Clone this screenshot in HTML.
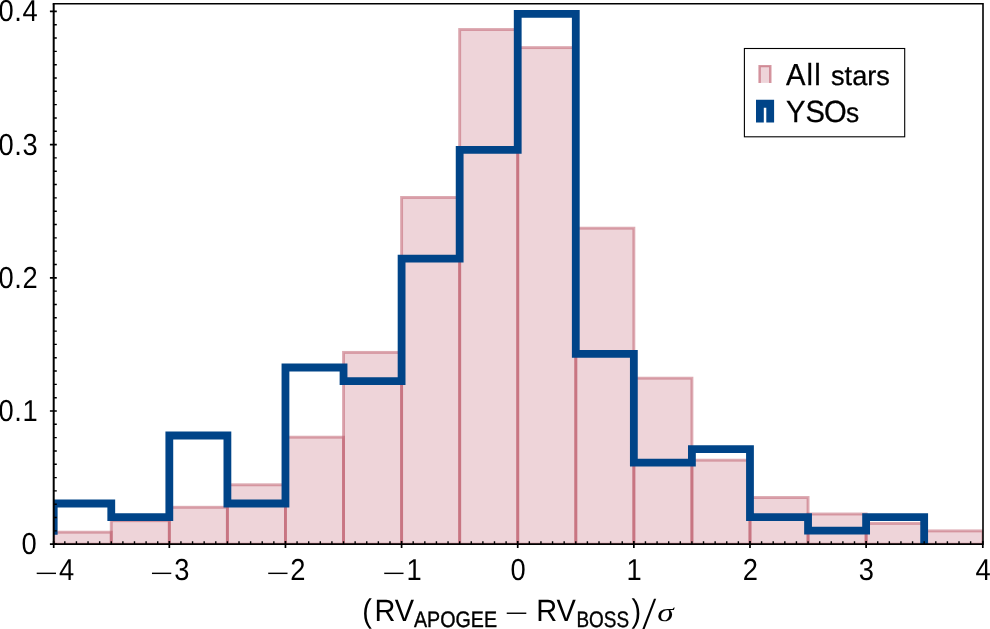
<!DOCTYPE html>
<html lang="en"><head><meta charset="utf-8"><title>RV comparison histogram</title>
<style>html,body{margin:0;padding:0;background:#fff;}body{width:990px;height:629px;overflow:hidden;}svg{display:block;}text{font-family:"Liberation Sans", Arial, Helvetica, sans-serif;fill:#000;text-rendering:geometricPrecision;}</style>
</head><body>
<svg width="990" height="629" viewBox="0 0 990 629">
<rect x="0" y="0" width="990" height="629" fill="#ffffff"/>
<defs><clipPath id="ax"><rect x="53.70" y="3.70" width="929.30" height="540.40"/></clipPath></defs>
<g clip-path="url(#ax)">
<rect x="53.70" y="532.20" width="57.57" height="12.00" fill="#BB5566" fill-opacity="0.25" stroke="#BB5566" stroke-opacity="0.5" stroke-width="2.9"/>
<rect x="111.27" y="520.70" width="58.06" height="23.50" fill="#BB5566" fill-opacity="0.25" stroke="#BB5566" stroke-opacity="0.5" stroke-width="2.9"/>
<rect x="169.33" y="507.30" width="58.06" height="36.90" fill="#BB5566" fill-opacity="0.25" stroke="#BB5566" stroke-opacity="0.5" stroke-width="2.9"/>
<rect x="227.40" y="484.80" width="58.06" height="59.40" fill="#BB5566" fill-opacity="0.25" stroke="#BB5566" stroke-opacity="0.5" stroke-width="2.9"/>
<rect x="285.46" y="437.20" width="58.06" height="107.00" fill="#BB5566" fill-opacity="0.25" stroke="#BB5566" stroke-opacity="0.5" stroke-width="2.9"/>
<rect x="343.53" y="352.40" width="58.06" height="191.80" fill="#BB5566" fill-opacity="0.25" stroke="#BB5566" stroke-opacity="0.5" stroke-width="2.9"/>
<rect x="401.59" y="197.45" width="58.06" height="346.75" fill="#BB5566" fill-opacity="0.25" stroke="#BB5566" stroke-opacity="0.5" stroke-width="2.9"/>
<rect x="459.66" y="29.50" width="58.06" height="514.70" fill="#BB5566" fill-opacity="0.25" stroke="#BB5566" stroke-opacity="0.5" stroke-width="2.9"/>
<rect x="517.72" y="47.60" width="58.07" height="496.60" fill="#BB5566" fill-opacity="0.25" stroke="#BB5566" stroke-opacity="0.5" stroke-width="2.9"/>
<rect x="575.79" y="228.20" width="58.06" height="316.00" fill="#BB5566" fill-opacity="0.25" stroke="#BB5566" stroke-opacity="0.5" stroke-width="2.9"/>
<rect x="633.85" y="378.20" width="58.06" height="166.00" fill="#BB5566" fill-opacity="0.25" stroke="#BB5566" stroke-opacity="0.5" stroke-width="2.9"/>
<rect x="691.91" y="460.20" width="58.07" height="84.00" fill="#BB5566" fill-opacity="0.25" stroke="#BB5566" stroke-opacity="0.5" stroke-width="2.9"/>
<rect x="749.98" y="497.50" width="58.07" height="46.70" fill="#BB5566" fill-opacity="0.25" stroke="#BB5566" stroke-opacity="0.5" stroke-width="2.9"/>
<rect x="808.05" y="514.00" width="58.06" height="30.20" fill="#BB5566" fill-opacity="0.25" stroke="#BB5566" stroke-opacity="0.5" stroke-width="2.9"/>
<rect x="866.11" y="523.40" width="58.06" height="20.80" fill="#BB5566" fill-opacity="0.25" stroke="#BB5566" stroke-opacity="0.5" stroke-width="2.9"/>
<rect x="924.17" y="530.90" width="58.83" height="13.30" fill="#BB5566" fill-opacity="0.25" stroke="#BB5566" stroke-opacity="0.5" stroke-width="2.9"/>
<path d="M53.70 534.70 L53.70 503.50 L111.27 503.50 L111.27 517.10 L169.33 517.10 L169.33 435.50 L227.40 435.50 L227.40 503.50 L285.46 503.50 L285.46 367.50 L343.53 367.50 L343.53 381.10 L401.59 381.10 L401.59 258.70 L459.66 258.70 L459.66 149.90 L517.72 149.90 L517.72 13.90 L575.79 13.90 L575.79 353.90 L633.85 353.90 L633.85 462.70 L691.91 462.70 L691.91 449.10 L749.98 449.10 L749.98 517.10 L808.05 517.10 L808.05 530.70 L866.11 530.70 L866.11 517.10 L924.17 517.10 L924.17 544.20" fill="none" stroke="#004488" stroke-width="7.8" stroke-linejoin="miter" stroke-linecap="butt"/>
</g>
<path d="M64.81 541.20 V544.10 M76.43 541.20 V544.10 M88.04 541.20 V544.10 M99.65 541.20 V544.10 M111.27 541.20 V544.10 M122.88 541.20 V544.10 M134.49 541.20 V544.10 M146.10 541.20 V544.10 M157.72 541.20 V544.10 M180.94 541.20 V544.10 M192.56 541.20 V544.10 M204.17 541.20 V544.10 M215.78 541.20 V544.10 M227.40 541.20 V544.10 M239.01 541.20 V544.10 M250.62 541.20 V544.10 M262.23 541.20 V544.10 M273.85 541.20 V544.10 M297.07 541.20 V544.10 M308.69 541.20 V544.10 M320.30 541.20 V544.10 M331.91 541.20 V544.10 M343.53 541.20 V544.10 M355.14 541.20 V544.10 M366.75 541.20 V544.10 M378.36 541.20 V544.10 M389.98 541.20 V544.10 M413.20 541.20 V544.10 M424.82 541.20 V544.10 M436.43 541.20 V544.10 M448.04 541.20 V544.10 M459.66 541.20 V544.10 M471.27 541.20 V544.10 M482.88 541.20 V544.10 M494.49 541.20 V544.10 M506.11 541.20 V544.10 M529.33 541.20 V544.10 M540.95 541.20 V544.10 M552.56 541.20 V544.10 M564.17 541.20 V544.10 M575.79 541.20 V544.10 M587.40 541.20 V544.10 M599.01 541.20 V544.10 M610.62 541.20 V544.10 M622.24 541.20 V544.10 M645.46 541.20 V544.10 M657.08 541.20 V544.10 M668.69 541.20 V544.10 M680.30 541.20 V544.10 M691.91 541.20 V544.10 M703.53 541.20 V544.10 M715.14 541.20 V544.10 M726.75 541.20 V544.10 M738.37 541.20 V544.10 M761.59 541.20 V544.10 M773.21 541.20 V544.10 M784.82 541.20 V544.10 M796.43 541.20 V544.10 M808.05 541.20 V544.10 M819.66 541.20 V544.10 M831.27 541.20 V544.10 M842.88 541.20 V544.10 M854.50 541.20 V544.10 M877.72 541.20 V544.10 M889.34 541.20 V544.10 M900.95 541.20 V544.10 M912.56 541.20 V544.10 M924.17 541.20 V544.10 M935.79 541.20 V544.10 M947.40 541.20 V544.10 M959.01 541.20 V544.10 M970.63 541.20 V544.10 M53.70 530.88 H56.80 M53.70 517.56 H56.80 M53.70 504.24 H56.80 M53.70 490.92 H56.80 M53.70 477.60 H56.80 M53.70 464.28 H56.80 M53.70 450.96 H56.80 M53.70 437.64 H56.80 M53.70 424.32 H56.80 M53.70 397.68 H56.80 M53.70 384.36 H56.80 M53.70 371.04 H56.80 M53.70 357.72 H56.80 M53.70 344.40 H56.80 M53.70 331.08 H56.80 M53.70 317.76 H56.80 M53.70 304.44 H56.80 M53.70 291.12 H56.80 M53.70 264.48 H56.80 M53.70 251.16 H56.80 M53.70 237.84 H56.80 M53.70 224.52 H56.80 M53.70 211.20 H56.80 M53.70 197.88 H56.80 M53.70 184.56 H56.80 M53.70 171.24 H56.80 M53.70 157.92 H56.80 M53.70 131.28 H56.80 M53.70 117.96 H56.80 M53.70 104.64 H56.80 M53.70 91.32 H56.80 M53.70 78.00 H56.80 M53.70 64.68 H56.80 M53.70 51.36 H56.80 M53.70 38.04 H56.80 M53.70 24.72 H56.80" fill="none" stroke="#000" stroke-width="1.4"/>
<path d="M53.70 541.00 V548.00 M169.33 541.00 V548.00 M285.46 541.00 V548.00 M401.59 541.00 V548.00 M517.72 541.00 V548.00 M633.85 541.00 V548.00 M749.98 541.00 V548.00 M866.11 541.00 V548.00 M982.80 541.00 V548.00 M49.90 544.20 H56.80 M49.90 411.00 H56.80 M49.90 277.80 H56.80 M49.90 144.60 H56.80 M49.90 11.40 H56.80" fill="none" stroke="#000" stroke-width="1.7"/>
<path d="M52.70 3.70 H983.80 M52.70 544.10 H983.80 M983.00 3.70 V544.10" fill="none" stroke="#000" stroke-width="1.6"/>
<path d="M53.70 3.70 V544.10" fill="none" stroke="#000" stroke-width="2.0"/>
<text transform="translate(38.10 21.45) scale(0.955 1.060)" font-size="28.6" text-anchor="end" letter-spacing="0.55">0.4</text>
<text transform="translate(38.10 154.65) scale(0.955 1.060)" font-size="28.6" text-anchor="end" letter-spacing="0.55">0.3</text>
<text transform="translate(38.10 287.85) scale(0.955 1.060)" font-size="28.6" text-anchor="end" letter-spacing="0.55">0.2</text>
<text transform="translate(38.10 421.05) scale(0.955 1.060)" font-size="28.6" text-anchor="end" letter-spacing="0.55">0.1</text>
<text transform="translate(37.20 554.25) scale(0.955 1.060)" font-size="28.6" text-anchor="end" letter-spacing="0.55">0</text>
<text transform="translate(46.30 579.6) scale(1.390 0.700)" font-size="28.6" text-anchor="middle">−</text>
<text transform="translate(66.50 579.9) scale(0.955 1.060)" font-size="28.6" text-anchor="middle">4</text>
<text transform="translate(161.63 579.6) scale(1.390 0.700)" font-size="28.6" text-anchor="middle">−</text>
<text transform="translate(181.83 579.9) scale(0.955 1.060)" font-size="28.6" text-anchor="middle">3</text>
<text transform="translate(277.76 579.6) scale(1.390 0.700)" font-size="28.6" text-anchor="middle">−</text>
<text transform="translate(297.96 579.9) scale(0.955 1.060)" font-size="28.6" text-anchor="middle">2</text>
<text transform="translate(393.89 579.6) scale(1.390 0.700)" font-size="28.6" text-anchor="middle">−</text>
<text transform="translate(414.09 579.9) scale(0.955 1.060)" font-size="28.6" text-anchor="middle">1</text>
<text transform="translate(518.02 579.9) scale(0.955 1.060)" font-size="28.6" text-anchor="middle">0</text>
<text transform="translate(634.15 579.9) scale(0.955 1.060)" font-size="28.6" text-anchor="middle">1</text>
<text transform="translate(750.28 579.9) scale(0.955 1.060)" font-size="28.6" text-anchor="middle">2</text>
<text transform="translate(866.41 579.9) scale(0.955 1.060)" font-size="28.6" text-anchor="middle">3</text>
<text transform="translate(983.20 579.9) scale(0.955 1.060)" font-size="28.6" text-anchor="middle">4</text>
<text transform="translate(362.3 622.2) scale(1 1.13)" font-size="29.0">(</text>
<text transform="translate(374.4 621.2) scale(1 1.06)" font-size="29.0">RV</text>
<text transform="translate(414.0 626.5) scale(1 1.10)" font-size="20.4" textLength="83" lengthAdjust="spacingAndGlyphs" stroke="#000" stroke-width="0.35">APOGEE</text>
<text transform="translate(516.4 620.0) scale(1.390 0.700)" font-size="29.0" text-anchor="middle">−</text>
<text transform="translate(536.2 621.2) scale(1 1.06)" font-size="29.0">RV</text>
<text transform="translate(576.5 626.5) scale(1 1.10)" font-size="20.4" textLength="52.6" lengthAdjust="spacingAndGlyphs" stroke="#000" stroke-width="0.35">BOSS</text>
<text transform="translate(631.6 622.2) scale(1 1.13)" font-size="29.0">)</text>
<text transform="translate(642.2 628.5) skewX(-11) scale(1 1.44)" font-size="29.0">/</text>
<text transform="translate(657.2 621.4) scale(1.17 0.92)" font-size="28.5" font-style="italic" style="font-family:'Liberation Serif','Times New Roman',serif">σ</text>
<rect x="744.4" y="48.5" width="160.3" height="88.3" fill="#fff" stroke="#000" stroke-width="1.1"/>
<path d="M759.6 82.9 V66.1 H770.3 V82.9" fill="#BB5566" fill-opacity="0.25" stroke="#BB5566" stroke-opacity="0.6" stroke-width="2.4"/>
<path d="M759.9 122.6 V103.75 H770.2 V122.6" fill="none" stroke="#004488" stroke-width="7.8"/>
<text transform="translate(786.0 84.75) scale(1 1.04)" font-size="29.2" stroke="#000" stroke-width="0.25"><tspan letter-spacing="1.1">All</tspan> <tspan x="45.0" font-size="26.3" textLength="59" lengthAdjust="spacingAndGlyphs">stars</tspan></text>
<text transform="translate(785.6 121.5) scale(1 1.05)" font-size="29.2" stroke="#000" stroke-width="0.25"><tspan x="0.3 20.0 38.3">YSO</tspan><tspan x="60.3" font-size="26.4">s</tspan></text>
</svg>
</body></html>
